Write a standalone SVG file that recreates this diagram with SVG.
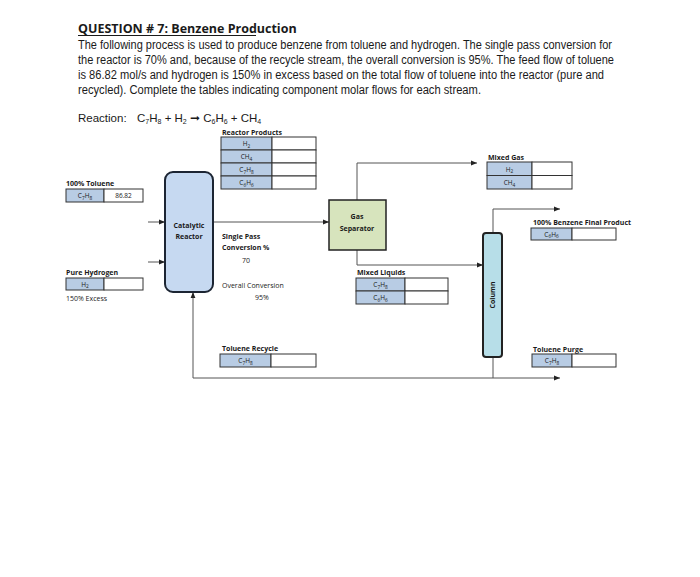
<svg xmlns="http://www.w3.org/2000/svg" width="700" height="577" viewBox="0 0 700 577">
<defs>
<style>
text{font-family:"Open Sans","Liberation Sans",sans-serif;fill:#1a1a1a}
.t{font-size:12.5px;font-weight:bold}
.p{font-family:"Liberation Sans","Open Sans",sans-serif;font-size:12px}
.r{font-family:"Liberation Sans","Open Sans",sans-serif;font-size:11.5px}
.l{font-size:7px;font-weight:bold}
.n{font-size:7px}
.c{font-size:6.5px;text-anchor:middle}
.s{font-size:4.8px}
.bc{fill:#b8cce4;stroke:#333;stroke-width:1}
.wc{fill:#fff;stroke:#333;stroke-width:1}
.ln{fill:none;stroke:#555;stroke-width:1}
</style>
<marker id="ah" viewBox="0 0 10 10" refX="10" refY="5" markerWidth="6" markerHeight="6" orient="auto"><path d="M0,1 L10,5 L0,9 z" fill="#222"/></marker>
</defs>
<rect width="700" height="577" fill="#fff"/>
<g id="header">
<text class="t" x="78" y="33">QUESTION # 7: Benzene Production</text>
<line x1="78" y1="35.5" x2="256" y2="35.5" stroke="#1a1a1a" stroke-width="1"/>
<text class="p" x="78" y="49" textLength="534" lengthAdjust="spacingAndGlyphs">The following process is used to produce benzene from toluene and hydrogen. The single pass conversion for</text>
<text class="p" x="78" y="64" textLength="536" lengthAdjust="spacingAndGlyphs">the reactor is 70% and, because of the recycle stream, the overall conversion is 95%. The feed flow of toluene</text>
<text class="p" x="78" y="79" textLength="526" lengthAdjust="spacingAndGlyphs">is 86.82 mol/s and hydrogen is 150% in excess based on the total flow of toluene into the reactor (pure and</text>
<text class="p" x="78" y="94" textLength="403" lengthAdjust="spacingAndGlyphs">recycled). Complete the tables indicating component molar flows for each stream.</text>
<text class="r" x="78" y="122">Reaction:</text>
<text class="r" x="137" y="122" font-size="10.5">C<tspan font-size="7" dy="2">7</tspan><tspan dy="-2">H</tspan><tspan font-size="7" dy="2">8</tspan><tspan dy="-2"> + H</tspan><tspan font-size="7" dy="2">2</tspan><tspan dy="-2"> ➞ C</tspan><tspan font-size="7" dy="2">6</tspan><tspan dy="-2">H</tspan><tspan font-size="7" dy="2">6</tspan><tspan dy="-2"> + CH</tspan><tspan font-size="7" dy="2">4</tspan></text>
</g>
<g id="connectors">
<line class="ln" x1="148" y1="222" x2="165" y2="222" marker-end="url(#ah)"/>
<line class="ln" x1="148" y1="262" x2="165" y2="262" marker-end="url(#ah)"/>
<line class="ln" x1="213" y1="222" x2="329" y2="222" marker-end="url(#ah)"/>
<polyline class="ln" points="357,200 357,163 477,163" marker-end="url(#ah)"/>
<polyline class="ln" points="357,250 357,265 483,265" marker-end="url(#ah)"/>
<polyline class="ln" points="493,233 493,209 560,209" marker-end="url(#ah)"/>
<line class="ln" x1="493" y1="357" x2="493" y2="378"/>
<line class="ln" x1="193" y1="378" x2="560" y2="378" marker-end="url(#ah)"/>
<line class="ln" x1="193" y1="378" x2="193" y2="292" marker-end="url(#ah)"/>
</g>
<g id="reactor">
<rect x="165" y="172" width="48" height="120" rx="8" fill="#c6d9f1" stroke="#1c2533" stroke-width="2"/>
<text class="l" x="189" y="228" text-anchor="middle">Catalytic</text>
<text class="l" x="189" y="239" text-anchor="middle">Reactor</text>
</g>
<g id="gas-separator">
<rect x="329" y="200" width="57" height="50" fill="#d7e4bd" stroke="#222" stroke-width="1.5"/>
<text class="l" x="357" y="219" text-anchor="middle">Gas</text>
<text class="l" x="357" y="231" text-anchor="middle">Separator</text>
</g>
<g id="column">
<rect x="483" y="233" width="19" height="124" rx="3" fill="#b7dee8" stroke="#222" stroke-width="2"/>
<text class="l" x="0" y="0" text-anchor="middle" transform="translate(495,295) rotate(-90)">Column</text>
</g>
<g id="conversion-notes">
<text class="l" x="222" y="239">Single Pass</text>
<text class="l" x="222" y="250">Conversion %</text>
<text class="n" x="242" y="263">70</text>
<text class="n" x="222" y="288">Overall Conversion</text>
<text class="n" x="255" y="300">95%</text>
</g>
<g id="reactor-products">
<text class="l" x="222" y="135">Reactor Products</text>
<rect class="bc" x="221" y="137" width="51" height="13"/><rect class="wc" x="272" y="137" width="44" height="13"/>
<rect class="bc" x="221" y="150" width="51" height="13"/><rect class="wc" x="272" y="150" width="44" height="13"/>
<rect class="bc" x="221" y="163" width="51" height="13"/><rect class="wc" x="272" y="163" width="44" height="13"/>
<rect class="bc" x="221" y="176" width="51" height="13"/><rect class="wc" x="272" y="176" width="44" height="13"/>
<text class="c" x="246.5" y="146">H<tspan class="s" dy="1.5">2</tspan></text>
<text class="c" x="246.5" y="159">CH<tspan class="s" dy="1.5">4</tspan></text>
<text class="c" x="246.5" y="172">C<tspan class="s" dy="1.5">7</tspan><tspan dy="-1.5">H</tspan><tspan class="s" dy="1.5">8</tspan></text>
<text class="c" x="246.5" y="185">C<tspan class="s" dy="1.5">6</tspan><tspan dy="-1.5">H</tspan><tspan class="s" dy="1.5">6</tspan></text>
</g>
<g id="toluene-feed">
<text class="l" x="66" y="186">100% Toluene</text>
<rect class="bc" x="66" y="189" width="38" height="13"/><rect class="wc" x="104" y="189" width="39" height="13"/>
<text class="c" x="85" y="198">C<tspan class="s" dy="1.5">7</tspan><tspan dy="-1.5">H</tspan><tspan class="s" dy="1.5">8</tspan></text>
<text class="c" x="123.5" y="198">86.82</text>
</g>
<g id="hydrogen-feed">
<text class="l" x="66" y="275">Pure Hydrogen</text>
<rect class="bc" x="66" y="278" width="38" height="12"/><rect class="wc" x="104" y="278" width="39" height="12"/>
<text class="c" x="85" y="286.5">H<tspan class="s" dy="1.5">2</tspan></text>
<text class="n" x="66" y="301">150% Excess</text>
</g>
<g id="mixed-gas">
<text class="l" x="488" y="160">Mixed Gas</text>
<rect class="bc" x="487" y="162" width="45" height="13.5"/><rect class="wc" x="532" y="162" width="40" height="13.5"/>
<rect class="bc" x="487" y="175.5" width="45" height="13.5"/><rect class="wc" x="532" y="175.5" width="40" height="13.5"/>
<text class="c" x="509.5" y="171.5">H<tspan class="s" dy="1.5">2</tspan></text>
<text class="c" x="509.5" y="185">CH<tspan class="s" dy="1.5">4</tspan></text>
</g>
<g id="benzene-product">
<text class="l" x="533" y="225">100% Benzene Final Product</text>
<rect class="bc" x="531" y="228" width="41" height="12"/><rect class="wc" x="572" y="228" width="44" height="12"/>
<text class="c" x="551.5" y="236.5">C<tspan class="s" dy="1.5">6</tspan><tspan dy="-1.5">H</tspan><tspan class="s" dy="1.5">6</tspan></text>
</g>
<g id="mixed-liquids">
<text class="l" x="357" y="275">Mixed Liquids</text>
<rect class="bc" x="356" y="278" width="49" height="13"/><rect class="wc" x="405" y="278" width="43" height="13"/>
<rect class="bc" x="356" y="291" width="49" height="13"/><rect class="wc" x="405" y="291" width="43" height="13"/>
<text class="c" x="380.5" y="287">C<tspan class="s" dy="1.5">7</tspan><tspan dy="-1.5">H</tspan><tspan class="s" dy="1.5">8</tspan></text>
<text class="c" x="380.5" y="300">C<tspan class="s" dy="1.5">6</tspan><tspan dy="-1.5">H</tspan><tspan class="s" dy="1.5">6</tspan></text>
</g>
<g id="toluene-recycle">
<text class="l" x="222" y="351">Toluene Recycle</text>
<rect class="bc" x="220" y="354" width="51" height="13"/><rect class="wc" x="271" y="354" width="45" height="13"/>
<text class="c" x="245.5" y="363">C<tspan class="s" dy="1.5">7</tspan><tspan dy="-1.5">H</tspan><tspan class="s" dy="1.5">8</tspan></text>
</g>
<g id="toluene-purge">
<text class="l" x="533" y="352">Toluene Purge</text>
<rect class="bc" x="532" y="354" width="40" height="13"/><rect class="wc" x="572" y="354" width="44" height="13"/>
<text class="c" x="552" y="363">C<tspan class="s" dy="1.5">7</tspan><tspan dy="-1.5">H</tspan><tspan class="s" dy="1.5">8</tspan></text>
</g>
</svg>
